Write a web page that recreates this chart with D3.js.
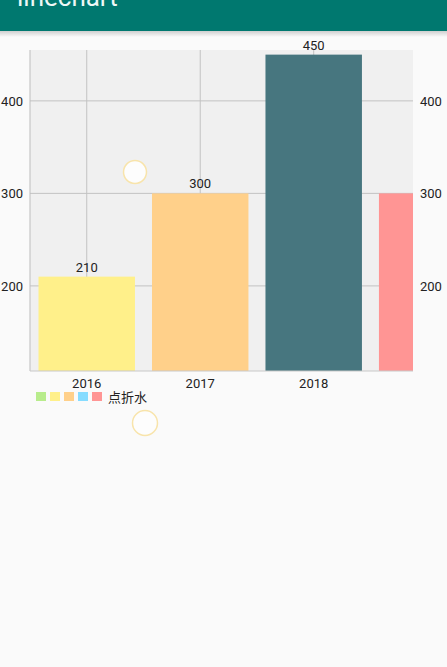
<!DOCTYPE html>
<html lang="en">

<head>
    <meta charset="UTF-8">
    <meta name="viewport" content="width=device-width, initial-scale=1.0">
    <title>linechart</title>
    <style>
        body {
            margin: 0;
            padding: 0;
            overflow: hidden;
            background-color: #fafafa;
            font-family: Roboto, "Noto Sans CJK SC", sans-serif;
        }

        svg {
            display: block;
        }
    </style>
</head>

<body>
    <script src="https://d3js.org/d3.v7.min.js"></script>
    <script>
        const years = ['2016', '2017', '2018', '2019'];
        const values = [210, 300, 450, 300];
        const barColors = ['#fff08a', '#ffd08a', '#47767f', '#ff9594'];
        const yTicks = [200, 300, 400];
        const legendColors = ['#b8ec8c', '#fff08a', '#ffd08a', '#86dcff', '#ff9594'];
        const legendLabel = '点折水';

        const width = 447;
        const height = 667;
        const chart = { left: 30, right: 413, top: 50, bottom: 371 };

        const svg = d3.select('body')
            .append('svg')
            .attr('width', width)
            .attr('height', height);

        // toolbar + soft shadow
        const grad = svg.append('defs').append('linearGradient')
            .attr('id', 'shadow')
            .attr('x1', 0).attr('y1', 0).attr('x2', 0).attr('y2', 1);
        grad.append('stop').attr('offset', 0).attr('stop-color', '#cfcfcf');
        grad.append('stop').attr('offset', 1).attr('stop-color', '#fafafa');
        svg.append('rect')
            .attr('x', 0).attr('y', 31).attr('width', width).attr('height', 6)
            .attr('fill', 'url(#shadow)');
        svg.append('rect')
            .attr('x', 0).attr('y', 0).attr('width', width).attr('height', 31)
            .attr('fill', '#00786f');
        svg.append('text')
            .attr('x', 17).attr('y', 6)
            .attr('font-size', 26)
            .attr('fill', '#eef8f6')
            .text('linechart');

        // scales: chart is scrolled, only part of the 4th bar shows
        const x = d3.scaleLinear()
            .domain([-0.5, 2.875])
            .range([chart.left, chart.right]);
        const y = d3.scaleLinear()
            .domain([108, 455])
            .range([chart.bottom, chart.top]);
        const barW = x(0.85) - x(0);

        svg.append('rect')
            .attr('x', chart.left).attr('y', chart.top)
            .attr('width', chart.right - chart.left).attr('height', chart.bottom - chart.top)
            .attr('fill', '#f0f0f0');

        svg.append('clipPath').attr('id', 'clip')
            .append('rect')
            .attr('x', chart.left).attr('y', chart.top)
            .attr('width', chart.right - chart.left).attr('height', chart.bottom - chart.top);

        const plot = svg.append('g').attr('clip-path', 'url(#clip)');

        // grid
        plot.selectAll('.hgrid')
            .data(yTicks)
            .enter()
            .append('line')
            .attr('x1', chart.left).attr('x2', chart.right)
            .attr('y1', d => y(d)).attr('y2', d => y(d))
            .attr('stroke', '#c2c2c2')
            .attr('stroke-width', 1);

        plot.selectAll('.vgrid')
            .data(years)
            .enter()
            .append('line')
            .attr('x1', (d, i) => x(i)).attr('x2', (d, i) => x(i))
            .attr('y1', chart.top).attr('y2', chart.bottom)
            .attr('stroke', '#c2c2c2')
            .attr('stroke-width', 1);

        // bars
        plot.selectAll('.bar')
            .data(values)
            .enter()
            .append('rect')
            .attr('x', (d, i) => x(i) - barW / 2)
            .attr('y', d => y(d))
            .attr('width', barW)
            .attr('height', d => chart.bottom - y(d) + 2)
            .attr('fill', (d, i) => barColors[i]);

        // axis lines
        svg.append('line')
            .attr('x1', chart.left).attr('x2', chart.left)
            .attr('y1', chart.top).attr('y2', chart.bottom)
            .attr('stroke', '#bdbdbd');
        svg.append('line')
            .attr('x1', chart.left).attr('x2', chart.right)
            .attr('y1', chart.bottom).attr('y2', chart.bottom)
            .attr('stroke', '#c8c8c8');

        // value labels
        svg.selectAll('.val')
            .data(values.filter((d, i) => x(i) < chart.right))
            .enter()
            .append('text')
            .attr('x', (d, i) => x(i))
            .attr('y', d => y(d) - 5)
            .attr('text-anchor', 'middle')
            .attr('font-size', 13)
            .attr('fill', '#222')
            .text(d => d);

        // y labels both sides
        svg.selectAll('.yl')
            .data(yTicks)
            .enter()
            .append('text')
            .attr('x', 23)
            .attr('y', d => y(d) + 5)
            .attr('text-anchor', 'end')
            .attr('font-size', 13)
            .attr('fill', '#222')
            .text(d => d);
        svg.selectAll('.yr')
            .data(yTicks)
            .enter()
            .append('text')
            .attr('x', 420)
            .attr('y', d => y(d) + 5)
            .attr('font-size', 13)
            .attr('fill', '#222')
            .text(d => d);

        // x labels
        svg.selectAll('.xl')
            .data(years.filter((d, i) => x(i) < chart.right))
            .enter()
            .append('text')
            .attr('x', (d, i) => x(i))
            .attr('y', 388)
            .attr('text-anchor', 'middle')
            .attr('font-size', 13)
            .attr('fill', '#222')
            .text(d => d);

        // legend
        svg.selectAll('.lg')
            .data(legendColors)
            .enter()
            .append('rect')
            .attr('x', (d, i) => 36 + i * 14)
            .attr('y', 392)
            .attr('width', 10)
            .attr('height', 9)
            .attr('fill', d => d);
        svg.append('text')
            .attr('x', 108).attr('y', 402)
            .attr('font-size', 13)
            .attr('font-family', '"Noto Sans CJK SC", sans-serif')
            .attr('fill', '#222')
            .text(legendLabel);

        // markers
        const dots = [[135, 172, 11.5], [145, 423, 12.5]];
        svg.selectAll('.dot')
            .data(dots)
            .enter()
            .append('circle')
            .attr('cx', d => d[0])
            .attr('cy', d => d[1])
            .attr('r', d => d[2])
            .attr('fill', '#fdfdfd')
            .attr('stroke', '#f8e4ab')
            .attr('stroke-width', 1.5);
    </script>
</body>

</html>
